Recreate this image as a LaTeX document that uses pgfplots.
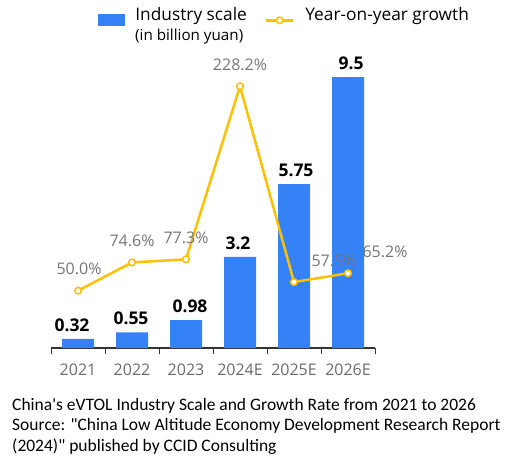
\documentclass[border=0pt]{standalone}
\usepackage{fontspec}
\setmainfont{Open Sans}
\newfontfamily\capfont[Ligatures=TeXOff]{Carlito}
\usepackage{pgfplots}
\pgfplotsset{compat=1.18}
\usepackage{pgfplotstable}
\pgfplotsset{/pgf/number format/assume math mode=true}
\definecolor{barblue}{HTML}{3482F6}
\definecolor{lineyellow}{HTML}{FFC000}
\definecolor{lblgray}{HTML}{757575}
\definecolor{tickgray}{HTML}{6B6B6B}
\definecolor{axisdark}{HTML}{333333}
\pgfplotsset{
  mylineleg/.style={legend image code/.code={\draw[##1] (0pt,-6pt) -- (27pt,-6pt); \draw[##1] plot coordinates {(13.5pt,-6pt)};}},
  mybarleg/.style={legend image code/.code={\fill[barblue] (0pt,-11.3pt) rectangle (26pt,-0.3pt);}},
}

\pgfplotstableread{
x y dx
0 0.32 -6
1 0.55 -1
2 0.98 4
3 3.2 -2
4 5.75 2
5 9.5 3
}\scaledata

\pgfplotstableread{
x y dx
0 50.0 1
1 74.6 0
2 77.3 0
3 228.2 0
4 57.5 40
5 65.2 37
}\growthdata

\begin{document}
\begin{tikzpicture}[x=1pt,y=1pt]
\useasboundingbox (0,0) rectangle (505,460);
\begin{axis}[
  at={(51pt,112pt)}, anchor=south west,
  scale only axis, width=324pt, height=288pt,
  xmin=-0.5, xmax=5.5, ymin=0, ymax=10.105,
  axis x line*=bottom, axis y line=none,
  axis line style={-, draw=axisdark, line width=1.3pt},
  xtick={0,...,5}, xticklabels={2021,2022,2023,2024E,2025E,2026E},
  major tick length=0pt,
  minor xtick={-0.5,0.5,...,5.5}, minor tick length=6pt, tick align=outside,
  minor tick style={draw=axisdark, line width=1pt},
  xticklabel style={font=\fontsize{16}{19}\selectfont, text=tickgray, anchor=center, yshift=-22pt},
  ytick=\empty,
  ybar, bar width=32pt,
  clip=false,
  nodes near coords,
  visualization depends on={\thisrow{dx} \as \dx},
  every node near coord/.append style={anchor=center, xshift=\dx pt, yshift=14pt,
     font=\fontsize{17.5}{20}\selectfont\bfseries, text=black},
]
\addplot[fill=barblue, draw=none] table[x=x, y=y] {\scaledata};
\end{axis}

\begin{axis}[
  at={(51pt,112pt)}, anchor=south west,
  scale only axis, width=324pt, height=288pt,
  xmin=-0.5, xmax=5.5, ymin=0, ymax=251.1,
  hide axis, clip=false,
  legend columns=2,
  legend style={at={(0.1451,1.184)}, anchor=north west, draw=none, fill=none,
     inner sep=0pt, outer sep=0pt,
     font=\fontsize{17.3}{20}\selectfont,
     nodes={inner sep=0pt},
     /tikz/every odd column/.append style={column sep=11pt},
     /tikz/every even column/.append style={column sep=18pt}},
  legend cell align=left,
]
\addlegendimage{mybarleg}
\addlegendentry{Industry scale}
\addplot[color=lineyellow, line width=2.5pt, mark=*, mark size=3.3pt,
   mark options={fill=white, draw=lineyellow, line width=1.5pt},
   mylineleg,
   nodes near coords={\pgfmathprintnumber[fixed,fixed zerofill,precision=1]{\pgfplotspointmeta}\%},
   visualization depends on={\thisrow{dx} \as \dx},
   every node near coord/.append style={anchor=center, xshift=\dx pt, yshift=21.5pt,
     font=\fontsize{16}{19}\selectfont, text=lblgray},
  ] table[x=x, y=y] {\growthdata};
\addlegendentry{Year-on-year growth}
\end{axis}

\node[anchor=base west, font=\fontsize{15.2}{17}\selectfont, inner sep=0pt] at (135,419.3) {(in billion yuan)};

\node[anchor=base west, inner sep=0pt, font=\capfont\fontsize{17.5}{20}\selectfont] at (12,50) {China's eVTOL Industry Scale and Growth Rate from 2021 to 2026};
\node[anchor=base west, inner sep=0pt, font=\capfont\fontsize{17.5}{20}\selectfont] at (12,29.5) {Source: "China Low Altitude Economy Development Research Report};
\node[anchor=base west, inner sep=0pt, font=\capfont\fontsize{17.5}{20}\selectfont] at (12,9) {(2024)" published by CCID Consulting};
\end{tikzpicture}
\end{document}
